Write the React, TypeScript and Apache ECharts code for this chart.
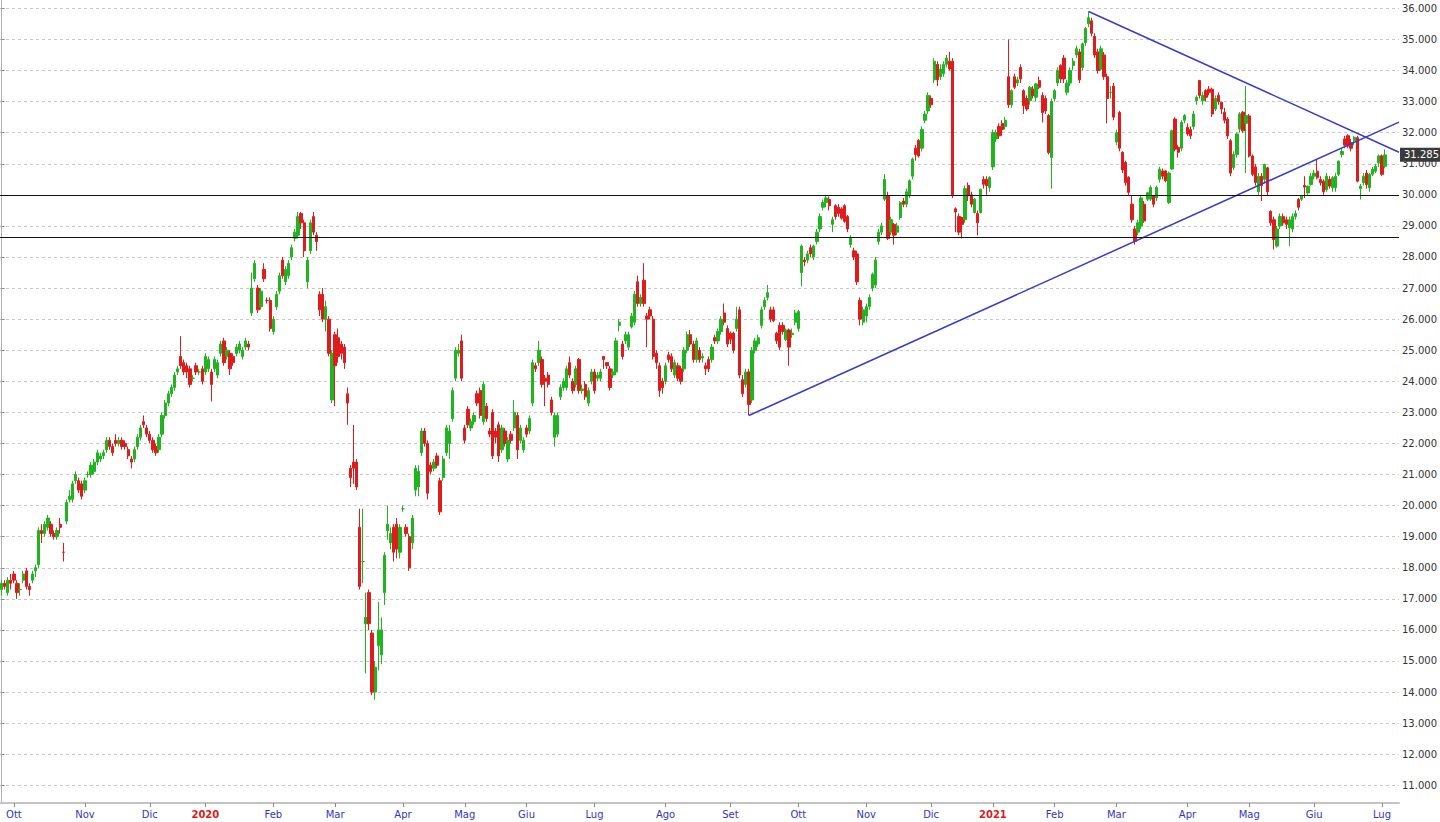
import React, { useEffect, useRef } from "react";
import * as echarts from "echarts";

// ---- axis structure ----
const monthLabels = ["", "Ott", "Nov", "Dic", "2020", "Feb", "Mar", "Apr", "Mag", "Giu", "Lug", "Ago", "Set", "Ott", "Nov", "Dic", "2021", "Feb", "Mar", "Apr", "Mag", "Giu", "Lug"];
const monthDays = [4, 23, 21, 18, 22, 20, 22, 20, 20, 22, 23, 21, 22, 22, 21, 20, 20, 20, 23, 20, 21, 22, 2];
const emptySlots = 4;

// ---- daily candles [open, close, low, high] ----
const sep19 = [[17.3,17.5,17.1,17.6],[17.5,17.4,17.3,17.6],[17.2,17.6,17.1,17.7],[17.6,17.5,17.3,17.8]];
const oct19 = [[17.8,17.6,17.5,17.9],[17.5,17.2,17.0,17.6],[17.3,17.3,17.1,17.5],[17.6,17.8,17.5,17.9],[17.9,17.4,17.3,18.0],[17.4,17.3,17.1,17.5],[17.6,17.8,17.5,17.9],[17.9,18.0,17.7,18.1],[18.1,19.2,18.0,19.3],[19.2,19.1,18.8,19.4],[19.1,19.4,19.0,19.5],[19.3,19.6,19.2,19.7],[19.4,19.1,19.0,19.5],[19.1,19.0,18.9,19.2],[19.0,19.2,18.9,19.3],[19.4,19.3,19.1,19.6],[18.5,18.5,18.2,18.8],[19.5,20.1,19.4,20.2],[20.2,20.3,20.1,20.5],[20.2,20.7,20.1,20.8],[20.8,21.0,20.7,21.1],[20.8,20.5,20.4,20.9],[20.7,20.3,20.2,20.8]];
const nov19 = [[20.5,20.8,20.4,20.9],[21.0,21.0,20.9,21.1],[21.0,21.3,20.9,21.4],[21.1,21.4,21.0,21.5],[21.4,21.7,21.3,21.8],[21.5,21.6,21.4,21.7],[21.6,21.7,21.5,21.8],[21.8,22.1,21.7,22.2],[22.1,21.9,21.8,22.2],[21.9,21.7,21.6,22.0],[22.1,22.0,21.9,22.3],[22.0,22.1,21.9,22.2],[22.1,21.9,21.8,22.2],[22.0,21.9,21.8,22.1],[21.8,21.6,21.5,21.9],[21.5,21.4,21.2,21.6],[21.5,21.8,21.4,21.9],[21.9,22.2,21.8,22.3],[22.2,22.5,22.1,22.6],[22.7,22.6,22.5,22.9],[22.5,22.3,22.2,22.6]];
const dec19 = [[22.3,22.1,22.0,22.4],[22.1,21.8,21.7,22.2],[21.9,21.7,21.6,22.0],[21.8,22.2,21.7,22.3],[22.3,22.9,22.2,23.0],[22.9,23.3,22.8,23.4],[23.3,23.6,23.2,23.7],[23.6,23.8,23.5,23.9],[23.8,24.2,23.7,24.3],[24.3,24.4,24.2,24.5],[24.8,24.5,24.4,25.45],[24.6,24.3,24.2,24.7],[24.5,24.3,24.1,24.6],[24.4,23.9,23.8,24.5],[24.1,24.1,24.0,24.2],[24.5,24.3,24.2,24.6],[24.3,24.3,24.2,24.4],[24.4,24.0,23.9,24.5]];
const jan20 = [[24.3,24.8,24.2,24.9],[24.4,24.7,24.3,24.8],[24.3,23.9,23.35,24.4],[24.4,24.7,24.3,24.8],[24.2,24.6,24.1,24.7],[24.9,25.2,24.8,25.3],[25.3,24.6,24.5,25.4],[24.8,25.0,24.7,25.1],[24.9,24.4,24.2,25.0],[24.8,24.6,24.5,24.9],[24.9,25.1,24.8,25.2],[25.0,25.2,24.9,25.3],[24.8,25.0,24.7,25.1],[25.1,25.3,25.0,25.4],[25.2,25.1,25.0,25.3],[26.2,27.0,26.1,27.5],[27.3,27.8,27.2,27.9],[27.0,26.3,26.2,27.1],[26.4,26.9,26.3,27.0],[27.6,27.3,27.2,27.8],[26.6,26.6,26.5,26.7],[26.6,25.7,25.6,26.7]];
const feb20 = [[25.6,26.0,25.5,26.1],[26.4,26.8,26.3,26.9],[26.9,27.4,26.8,27.5],[27.9,27.4,27.3,28.0],[27.2,27.6,27.1,27.7],[27.4,27.8,27.3,27.9],[28.0,28.3,27.9,28.4],[28.6,28.8,28.5,28.9],[28.7,29.3,28.6,29.45],[29.4,29.1,28.9,29.45],[29.1,28.2,28.0,29.2],[27.2,27.9,27.0,28.0],[28.2,29.1,28.1,29.2],[29.3,28.8,28.7,29.45],[28.7,28.5,28.2,28.8],[26.8,26.3,26.1,26.9],[26.8,26.0,25.9,27.0],[26.0,26.4,25.6,26.6],[26.0,24.9,24.8,26.1],[23.4,24.9,23.3,25.0]];
const mar20 = [[25.5,24.5,23.2,25.6],[25.4,24.8,24.6,25.7],[25.2,24.9,24.7,25.3],[25.1,24.6,24.4,25.2],[23.6,23.3,22.6,23.8],[21.2,20.9,20.6,21.3],[21.4,21.2,20.7,22.6],[21.4,20.6,20.5,21.5],[19.3,17.4,17.3,19.9],[18.2,18.2,17.5,19.9],[16.2,16.4,14.6,17.2],[17.2,16.2,16.0,17.3],[15.9,14.0,13.9,16.0],[14.0,14.8,13.75,15.0],[15.5,16.0,14.7,16.9],[15.2,16.0,14.9,16.4],[17.2,18.4,16.8,18.5],[19.2,19.4,18.9,20.0],[18.8,19.1,18.6,19.3],[19.3,18.5,18.2,19.4],[19.4,18.6,18.3,19.6],[18.5,19.3,18.3,19.4]];
const apr20 = [[19.9,19.9,19.8,20.0],[19.3,19.1,19.0,19.4],[19.0,18.0,17.9,19.1],[18.8,19.6,18.6,19.7],[20.5,21.2,20.3,21.3],[20.6,21.1,20.3,21.3],[21.7,22.4,21.6,22.5],[22.4,22.0,21.9,22.5],[22.0,20.4,20.2,22.1],[21.3,21.1,21.0,21.4],[21.2,21.4,21.1,21.5],[21.6,21.3,21.2,21.7],[20.8,19.8,19.7,20.9],[20.9,21.5,20.8,21.6],[21.7,22.5,21.6,22.6],[22.0,22.4,21.5,22.6],[22.8,23.7,22.7,23.8],[24.1,25.0,24.0,25.1],[24.9,25.0,24.8,25.2],[25.3,24.1,24.0,25.5]];
const may20 = [[22.5,22.1,22.0,22.6],[23.1,22.6,22.5,23.2],[22.5,22.7,22.4,22.8],[22.7,22.9,22.6,23.0],[23.6,23.3,23.2,23.7],[23.7,22.9,22.8,23.8],[22.7,23.9,22.6,24.0],[23.2,22.8,22.7,23.3],[22.4,22.3,22.2,22.5],[23.0,21.6,21.5,23.1],[22.4,22.2,22.0,22.5],[22.6,21.6,21.4,22.7],[21.8,22.5,21.7,22.6],[22.4,22.0,21.9,22.5],[21.5,22.1,21.4,22.2],[22.3,22.1,22.0,22.4],[22.5,23.0,22.4,23.4],[22.9,21.8,21.5,23.0],[22.1,22.5,22.0,22.6],[21.8,22.1,21.7,22.2]];
const jun20 = [[22.5,22.3,22.2,22.6],[22.4,22.8,22.3,22.9],[23.3,24.6,23.2,24.7],[24.5,24.4,24.3,24.6],[24.6,25.0,24.5,25.3],[24.7,23.9,23.8,24.8],[24.1,24.0,23.2,24.2],[24.2,23.9,23.8,24.3],[23.4,23.0,22.9,23.5],[22.2,22.9,21.9,23.0],[22.3,22.9,22.2,23.0],[23.5,23.8,23.4,23.9],[23.8,24.0,23.7,24.1],[23.8,24.4,23.7,24.5],[24.6,24.2,24.1,24.8],[24.0,23.7,23.6,24.1],[23.9,24.4,23.8,24.5],[24.7,23.7,23.6,24.75],[23.7,23.75,23.6,23.9],[23.9,23.5,23.4,24.0],[23.3,23.7,23.2,23.8],[24.0,24.3,23.9,24.4]];
const jul20 = [[24.3,23.7,23.6,24.4],[24.1,24.2,24.0,24.3],[24.1,24.3,24.0,24.4],[24.8,24.7,24.4,24.8],[24.6,24.5,24.4,24.6],[24.4,23.8,23.7,24.5],[24.2,24.3,24.1,24.4],[24.3,25.3,24.2,25.4],[25.8,25.9,25.6,26.0],[25.2,24.8,24.7,25.3],[25.3,25.5,25.2,25.6],[25.1,25.5,25.0,25.6],[25.75,26.1,25.7,26.2],[25.9,26.8,25.8,26.9],[27.2,26.5,26.4,27.4],[26.5,26.7,26.4,26.8],[27.25,26.5,26.4,27.8],[26.1,26.0,25.1,26.2],[26.3,26.1,26.0,26.4],[26.0,24.8,24.7,26.1],[24.9,24.6,24.4,25.0],[24.5,23.7,23.5,24.6],[24.0,23.8,23.6,24.1]];
const aug20 = [[24.0,24.5,23.9,24.6],[24.85,24.7,24.6,24.95],[24.8,24.4,24.3,24.9],[24.2,24.6,24.1,24.7],[24.5,24.1,24.0,24.6],[24.4,24.0,23.9,24.5],[24.4,25.0,24.3,25.1],[25.0,25.5,24.9,25.6],[25.5,25.2,25.1,25.65],[25.2,24.7,24.6,25.3],[24.7,25.3,24.6,25.4],[25.0,24.7,24.6,25.1],[24.75,24.8,24.6,24.9],[24.5,24.4,24.2,24.6],[24.7,24.4,24.3,24.8],[24.7,25.1,24.6,25.2],[25.4,25.3,25.2,25.5],[25.3,25.6,25.2,25.7],[25.6,26.0,25.5,26.1],[26.2,25.9,25.8,26.5],[25.7,25.2,25.1,25.8]];
const sep20 = [[25.55,25.35,25.2,25.6],[25.55,25.0,24.9,25.6],[25.7,26.0,25.6,26.4],[26.3,24.2,24.1,26.4],[24.05,23.6,23.5,24.2],[23.9,24.3,23.8,24.4],[24.3,23.25,22.9,24.4],[23.4,25.0,23.3,25.1],[25.0,25.3,24.9,25.4],[25.2,25.4,25.1,25.5],[25.8,26.3,25.7,26.4],[26.4,26.6,26.3,26.7],[26.7,26.85,26.6,27.1],[26.3,26.0,25.9,26.4],[26.3,25.95,25.9,26.4],[25.55,25.3,25.2,25.6],[25.8,25.1,25.0,25.9],[25.8,25.6,25.5,25.9],[25.35,25.65,25.3,25.7],[25.65,25.1,24.5,25.7],[25.5,25.55,25.4,25.7],[25.9,26.2,25.8,26.3]];
const oct20 = [[25.7,26.25,25.6,26.3],[27.5,28.35,27.06,28.4],[27.9,27.85,27.7,28.0],[27.9,28.1,27.8,28.2],[28.3,28.1,28.0,28.4],[28.0,28.35,27.9,28.4],[28.5,28.8,28.4,28.9],[28.9,29.3,28.8,29.4],[29.6,29.75,29.5,29.85],[29.75,29.9,29.6,30.0],[29.85,29.65,29.5,29.95],[29.05,29.2,28.8,29.3],[29.65,29.3,29.2,29.7],[29.6,29.4,29.3,29.7],[29.55,29.25,29.2,29.6],[29.65,29.15,29.1,29.7],[29.3,28.9,28.8,29.35],[28.4,28.6,28.3,28.7],[28.2,28.0,27.9,28.3],[28.1,27.2,27.1,28.2],[26.6,26.0,25.8,26.7],[25.9,26.3,25.8,26.4]];
const nov20 = [[26.1,26.4,25.9,26.5],[26.4,26.7,26.3,26.8],[27.0,27.45,26.9,27.5],[27.1,27.9,27.0,28.0],[28.5,28.8,28.4,28.9],[28.8,29.0,28.7,29.1],[29.86,30.5,29.8,30.67],[29.97,28.6,28.55,30.1],[28.8,29.2,28.7,29.3],[29.05,28.7,28.4,29.1],[28.8,29.0,28.7,29.1],[29.27,29.75,29.2,29.8],[29.8,29.7,29.6,29.9],[29.7,30.1,29.6,30.2],[30.0,30.45,29.9,30.5],[30.6,31.15,30.5,31.2],[31.5,31.3,31.1,31.6],[31.75,31.25,31.2,31.8],[31.5,32.1,31.4,32.2],[32.4,32.6,32.3,32.7],[32.7,33.2,32.6,33.3]];
const dec20 = [[33.1,32.9,32.8,33.2],[33.7,34.3,33.6,34.4],[34.2,33.7,33.5,34.3],[33.8,34.05,33.7,34.2],[33.9,34.2,33.8,34.3],[34.2,34.4,34.1,34.5],[34.3,34.05,34.0,34.6],[34.3,30.0,29.9,34.4],[29.55,29.45,28.8,29.6],[29.3,28.8,28.7,29.4],[29.27,29.05,28.6,29.3],[29.2,30.2,29.1,30.3],[30.3,29.97,29.8,30.4],[30.0,29.7,29.6,30.1],[29.43,29.86,29.4,29.9],[29.4,29.1,28.7,29.5],[29.43,30.18,29.4,30.2],[30.5,30.34,30.2,30.6],[30.5,30.3,30.0,30.6],[30.24,30.56,30.1,30.6]];
const jan21 = [[30.9,32.0,30.8,32.1],[31.8,32.0,31.7,32.1],[32.2,31.9,31.8,32.3],[32.3,32.1,31.9,32.4],[32.2,32.4,32.1,32.5],[33.8,32.9,32.8,35.0],[32.9,33.35,32.8,33.4],[33.8,33.46,33.4,33.9],[33.6,33.7,33.5,33.8],[34.1,33.73,33.6,34.2],[33.35,32.87,32.6,33.4],[33.1,32.76,32.7,33.2],[33.03,33.46,32.9,33.5],[33.4,33.2,33.1,33.5],[33.14,33.57,33.0,33.6],[33.68,33.46,33.4,33.8],[33.2,32.65,32.33,33.3],[33.1,32.7,32.6,33.2],[32.55,31.36,31.3,32.6],[31.2,33.0,30.2,33.1]];
const feb21 = [[33.1,33.35,33.0,33.4],[33.6,34.0,33.5,34.1],[34.16,33.73,33.6,34.2],[34.4,33.73,33.6,34.5],[33.3,33.6,33.2,33.7],[33.6,34.0,33.5,34.1],[34.16,34.3,34.0,34.4],[34.5,34.7,34.4,34.8],[34.6,33.7,33.6,34.7],[34.1,34.86,34.0,34.9],[34.9,35.35,34.8,35.4],[35.5,35.7,35.4,35.9],[35.6,35.2,35.1,35.7],[35.1,34.5,34.4,35.2],[34.6,34.0,33.9,34.7],[34.05,34.7,34.0,34.8],[34.5,33.8,33.7,34.6],[33.8,33.1,32.3,33.9],[33.3,33.3,33.1,33.5],[33.5,32.5,32.4,33.6]];
const mar21 = [[31.7,32.0,31.6,32.1],[32.65,31.5,31.4,32.7],[31.37,30.8,30.7,31.4],[31.04,30.4,30.3,31.1],[30.56,30.08,30.0,30.6],[29.7,29.2,29.1,29.97],[28.9,28.5,28.4,29.0],[28.8,29.1,28.7,29.2],[29.0,29.9,28.9,30.0],[29.7,29.16,29.1,29.8],[29.86,30.07,29.8,30.1],[29.86,30.24,29.8,30.3],[29.97,29.7,29.6,30.0],[29.9,30.24,29.8,30.3],[30.5,30.83,30.4,30.9],[30.77,30.6,30.5,30.85],[30.77,30.45,30.4,30.8],[29.75,30.7,29.7,30.75],[30.83,32.06,30.8,32.1],[32.44,31.47,31.4,32.5],[31.53,31.37,31.2,31.6],[31.5,32.33,31.4,32.4],[32.4,32.55,32.3,32.6]];
const apr21 = [[32.17,31.96,31.9,32.3],[32.1,31.9,31.8,32.2],[32.2,32.6,32.1,32.7],[33.03,33.14,32.9,33.2],[33.68,33.2,33.1,33.7],[33.03,33.2,32.9,33.3],[33.35,33.14,33.0,33.4],[33.4,33.3,33.2,33.5],[33.4,32.6,32.5,33.45],[32.76,33.1,32.7,33.2],[33.2,33.0,32.9,33.3],[32.98,32.76,32.6,33.0],[32.66,32.4,32.3,32.8],[32.44,31.9,31.8,32.5],[31.74,30.7,30.6,31.8],[30.88,31.3,30.8,31.4],[31.3,31.96,31.2,32.0],[32.12,32.6,32.0,32.66],[32.66,32.06,32.0,32.7],[32.3,32.55,30.7,33.5]];
const may21 = [[32.54,31.25,31.2,32.6],[31.25,30.66,30.6,31.3],[30.9,30.4,30.3,31.0],[30.1,30.6,30.0,30.7],[30.6,30.3,29.8,30.7],[30.5,30.98,30.4,31.0],[30.87,30.1,29.96,30.9],[29.47,29.1,29.0,29.5],[29.2,28.56,28.24,29.3],[28.35,28.9,28.3,29.0],[29.0,29.3,28.9,29.4],[29.3,29.1,29.0,29.4],[29.2,29.05,28.9,29.3],[28.94,29.2,28.35,29.3],[28.9,29.3,28.8,29.4],[29.3,29.4,29.2,29.5],[29.85,29.6,29.5,29.9],[29.86,29.96,29.8,30.0],[30.3,30.25,29.9,30.6],[30.06,30.28,30.0,30.3],[30.33,30.6,30.3,30.7]];
const jun21 = [[30.6,30.7,30.5,30.8],[30.76,30.55,30.5,31.14],[30.49,30.39,30.3,30.6],[30.44,30.1,30.0,30.5],[30.17,30.6,30.1,30.7],[30.5,30.28,30.2,30.6],[30.23,30.55,30.1,30.6],[30.23,30.6,30.1,30.7],[30.66,31.09,30.6,31.1],[31.3,31.4,31.2,31.5],[31.8,31.6,31.5,31.9],[31.9,31.57,31.5,31.95],[31.68,31.5,31.4,31.8],[31.74,31.85,31.6,31.9],[31.84,30.44,30.4,31.9],[30.2,30.28,29.85,30.35],[30.39,30.6,30.3,30.7],[30.7,30.33,30.2,30.8],[30.23,30.66,30.1,30.7],[30.66,30.82,30.6,30.9],[30.76,30.92,30.7,31.0],[31.03,31.25,30.9,31.3]];
const jul21 = [[31.25,30.66,30.6,31.3],[30.92,31.285,30.85,31.46]];

// ---- drawn levels ----
const supportLevels = [30.0, 28.63];
const lastPrice = 31.285;
const upperTrend = [[352, 35.9], [452.5, 31.37]];
const lowerTrend = [[242, 22.9], [452.5, 32.34]];

const candles = [
  ...sep19, ...oct19, ...nov19, ...dec19,
  ...jan20, ...feb20, ...mar20, ...apr20, ...may20, ...jun20, ...jul20, ...aug20, ...sep20, ...oct20, ...nov20, ...dec20,
  ...jan21, ...feb21, ...mar21, ...apr21, ...may21, ...jun21, ...jul21,
];

const categories: string[] = [];
const labelAt: Record<number, string> = {};
{
  let idx = 0;
  monthDays.forEach((d, m) => {
    if (monthLabels[m]) labelAt[idx] = monthLabels[m];
    for (let k = 0; k < d; k++) categories.push(`${m}-${k}`);
    idx += d;
  });
  for (let k = 0; k < emptySlots; k++) categories.push(`e${k}`);
}
const nCat = categories.length;

export default function App() {
  const ref = useRef<HTMLDivElement>(null);
  useEffect(() => {
    if (!ref.current) return;
    const chart = echarts.init(ref.current, undefined, { renderer: "svg" });
    const font = "DejaVu Sans, Verdana, sans-serif";
    const showAt = (index: number) => labelAt[index] !== undefined;
    chart.setOption({
      animation: false,
      backgroundColor: "#ffffff",
      grid: { left: 0, right: 40, top: 0, bottom: 19, containLabel: false },
      xAxis: [
        {
          type: "category",
          data: categories,
          boundaryGap: true,
          axisLine: { show: true, lineStyle: { color: "#c4c4c4", width: 2 } },
          axisTick: { show: true, interval: showAt, alignWithLabel: true, length: 4, lineStyle: { color: "#8a8a8a" } },
          axisLabel: {
            interval: showAt,
            margin: 6,
            fontFamily: font,
            fontSize: 10,
            color: "#3434c4",
            formatter: (_v: string, index: number) => {
              const l = labelAt[index] || "";
              return /^\d{4}$/.test(l) ? `{y|${l}}` : l;
            },
            rich: { y: { color: "#dd1a1a", fontWeight: "bold", fontFamily: font, fontSize: 10 } },
          },
          splitLine: { show: false },
        },
        { type: "value", min: -0.5, max: nCat - 0.5, show: false },
      ],
      yAxis: {
        type: "value",
        position: "right",
        min: 10.43,
        max: 36.27,
        splitNumber: 25,
        minInterval: 1,
        maxInterval: 1,
        axisLine: { show: true, lineStyle: { color: "#b0b0b0" } },
        axisTick: { show: true, length: 3, lineStyle: { color: "#888" } },
        axisLabel: {
          showMinLabel: false,
          showMaxLabel: false,
          margin: 3,
          color: "#333",
          fontFamily: font,
          fontSize: 10,
          formatter: (v: number) => v.toFixed(3),
        },
        splitLine: { show: true, showMinLine: false, showMaxLine: false, lineStyle: { color: "#c8c8c8", type: [3, 3], width: 1 } },
      },
      series: [
        {
          type: "candlestick",
          data: candles,
          barWidth: 2.8,
          itemStyle: { color: "#1fb51f", color0: "#e01b1b", borderColor: "#1fb51f", borderColor0: "#e01b1b", borderWidth: 1 },
          markLine: {
            silent: true,
            symbol: ["none", "none"],
            label: { show: false },
            data: [
              ...supportLevels.map((v) => ({ yAxis: v, lineStyle: { color: "#111", width: 1.2, type: "solid" } })),
              {
                yAxis: lastPrice,
                lineStyle: { color: "rgba(0,0,0,0)", width: 1, type: "solid" },
                label: {
                  show: true,
                  position: "end",
                  distance: 1,
                  formatter: lastPrice.toFixed(3),
                  backgroundColor: "#3a3a3a",
                  color: "#ffffff",
                  padding: [2, 4, 2, 4],
                  fontFamily: font,
                  fontSize: 10,
                },
              },
            ],
          },
        },
        {
          type: "line",
          xAxisIndex: 1,
          data: upperTrend,
          symbol: "none",
          lineStyle: { color: "#3a3ac8", width: 1.5 },
          silent: true,
        },
        {
          type: "line",
          xAxisIndex: 1,
          data: lowerTrend,
          symbol: "none",
          lineStyle: { color: "#3a3ac8", width: 1.5 },
          silent: true,
        },
      ],
    });
    return () => chart.dispose();
  }, []);
  return (
    <div
      ref={ref}
      style={{ position: "fixed", left: 0, top: 0, width: 1440, height: 822, background: "#fff" }}
    />
  );
}
